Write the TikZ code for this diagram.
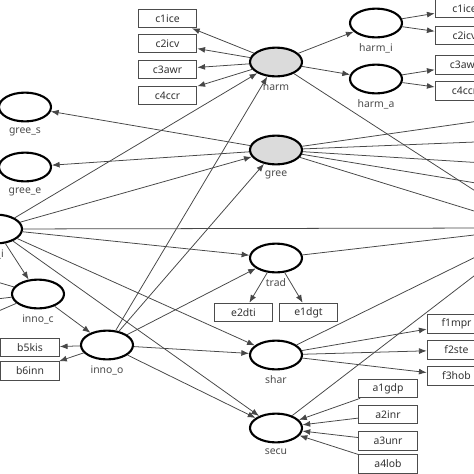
\documentclass[tikz,border=0pt]{standalone}
\usepackage{fontspec}
\setmainfont{Noto Sans}
\usetikzlibrary{shapes.geometric,arrows.meta}

\tikzset{
  Latent/.style = {ellipse, draw, line width=1.5pt, minimum width=1.3cm,
                   minimum height=0.72cm, inner sep=0pt, label distance=1.8mm},
  Core/.style   = {Latent, fill=black!14},
  Item/.style   = {draw=black!70, line width=0.6pt, minimum width=1.47cm,
                   minimum height=0.47cm, inner sep=0pt,
                   font=\fontsize{7.4}{8}\selectfont, text=black!80},
  Name/.style   = {font=\fontsize{7.4}{8}\selectfont, text=black!70},
  Path/.style   = {draw=black!72, line width=0.55pt, -{Latex[length=5.5pt,width=4.2pt]}}
}

\begin{document}
\begin{tikzpicture}[x=0.025cm, y=-0.025cm]
   \clip (0,0) rectangle (474,474);
   \node[Core]   (harm)  at (276,62)  [label={[Name]below:harm}] {};
   \node[Latent] (harmi) at (376,23)  [label={[Name]below:harm\_i}] {};
   \node[Latent] (harma) at (376,79)  [label={[Name]below:harm\_a}] {};
   \node[Core]   (gree)  at (276,150) [label={[Name]below:gree}] {};
   \node[Latent] (grees) at (25,107)  [label={[Name]below:gree\_s}] {};
   \node[Latent] (greee) at (25,167)  [label={[Name]below:gree\_e}] {};
   \node[Latent] (innoi) at (-4,229)  [label={[Name,xshift=-0.17cm]below:inno\_i}] {};
   \node[Latent] (innoc) at (38,294)  [label={[Name]below:inno\_c}] {};
   \node[Latent] (innoo) at (107,345) [label={[Name]below:inno\_o}] {};
   \node[Latent] (trad)  at (276,258) [label={[Name]below:trad}] {};
   \node[Latent] (shar)  at (276,355) [label={[Name]below:shar}] {};
   \node[Latent] (secu)  at (276,428) [label={[Name]below:secu}] {};

   \node[Item] (c1L) at (167.5,18.5) {c1ice};
   \node[Item] (c2L) at (167.5,43.5) {c2icv};
   \node[Item] (c3L) at (167.5,69.5) {c3awr};
   \node[Item] (c4L) at (167.5,95.5) {c4ccr};
   \node[Item] (c1R) at (464.5,8.5)  {c1ice};
   \node[Item] (c2R) at (464.5,35.5) {c2icv};
   \node[Item] (c3R) at (464.5,65)   {c3awr};
   \node[Item] (c4R) at (464.5,91)   {c4ccr};
   \node[Item] (b5)  at (30,347.5)   {b5kis};
   \node[Item] (b6)  at (30,371)     {b6inn};
   \node[Item] (e2)  at (243.5,312.5) {e2dti};
   \node[Item] (e1)  at (308.5,312.5) {e1dgt};
   \node[Item] (f1)  at (456.5,324)  {f1mpr};
   \node[Item] (f2)  at (456.5,350)  {f2ste};
   \node[Item] (f3)  at (456.5,376)  {f3hob};
   \node[Item] (a1)  at (388,388.5)  {a1gdp};
   \node[Item] (a2)  at (388,414.5)  {a2inr};
   \node[Item] (a3)  at (388,441)    {a3unr};
   \node[Item] (a4)  at (388,464)    {a4lob};

   \coordinate (hR)  at (500,207);
   \coordinate (gR1) at (500,118);
   \coordinate (gR2) at (500,141);
   \coordinate (gR3) at (500,164);
   \coordinate (gR4) at (500,187);
   \coordinate (gR5) at (500,219);
   \coordinate (iR)  at (500,228);
   \coordinate (tR)  at (500,232);
   \coordinate (sR)  at (500,245);
   \coordinate (uR)  at (500,256);
   \coordinate (cL1) at (-20,277);
   \coordinate (cL2) at (-20,301);
   \coordinate (cL3) at (-20,319);

   \draw[Path] (harm) -- (c1L);
   \draw[Path] (harm) -- (c2L);
   \draw[Path] (harm) -- (c3L);
   \draw[Path] (harm) -- (c4L);
   \draw[Path] (harm) -- (harmi);
   \draw[Path] (harm) -- (harma);
   \draw[Path] (harmi) -- (c1R);
   \draw[Path] (harmi) -- (c2R);
   \draw[Path] (harma) -- (c3R);
   \draw[Path] (harma) -- (c4R);
   \draw[Path] (harm) -- (hR);
   \draw[Path] (gree) -- (grees);
   \draw[Path] (gree) -- (greee);
   \draw[Path] (gree) -- (gR1);
   \draw[Path] (gree) -- (gR2);
   \draw[Path] (gree) -- (gR3);
   \draw[Path] (gree) -- (gR4);
   \draw[Path] (gree) -- (gR5);
   \draw[Path] (innoi) -- (harm);
   \draw[Path] (innoi) -- (gree);
   \draw[Path] (innoi) -- (iR);
   \draw[Path] (innoi) -- (trad);
   \draw[Path] (innoi) -- (shar);
   \draw[Path] (innoi) -- (secu);
   \draw[Path] (innoi) -- (innoc);
   \draw[draw=black!72, line width=0.55pt] (cL1) -- (innoc);
   \draw[draw=black!72, line width=0.55pt] (cL2) -- (innoc);
   \draw[draw=black!72, line width=0.55pt] (cL3) -- (innoc);
   \draw[Path] (innoc) -- (innoo);
   \draw[Path] (innoo) -- (b5);
   \draw[Path] (innoo) -- (b6);
   \draw[Path] (innoo) -- (harm);
   \draw[Path] (innoo) -- (gree);
   \draw[Path] (innoo) -- (trad);
   \draw[Path] (innoo) -- (shar);
   \draw[Path] (innoo) -- (secu);
   \draw[Path] (trad) -- (e2);
   \draw[Path] (trad) -- (e1);
   \draw[Path] (trad) -- (tR);
   \draw[Path] (shar) -- (f1);
   \draw[Path] (shar) -- (f2);
   \draw[Path] (shar) -- (f3);
   \draw[Path] (shar) -- (sR);
   \draw[Path] (secu) -- (uR);
   \draw[Path] (a1) -- (secu);
   \draw[Path] (a2) -- (secu);
   \draw[Path] (a3) -- (secu);
   \draw[Path] (a4) -- (secu);
\end{tikzpicture}
\end{document}
